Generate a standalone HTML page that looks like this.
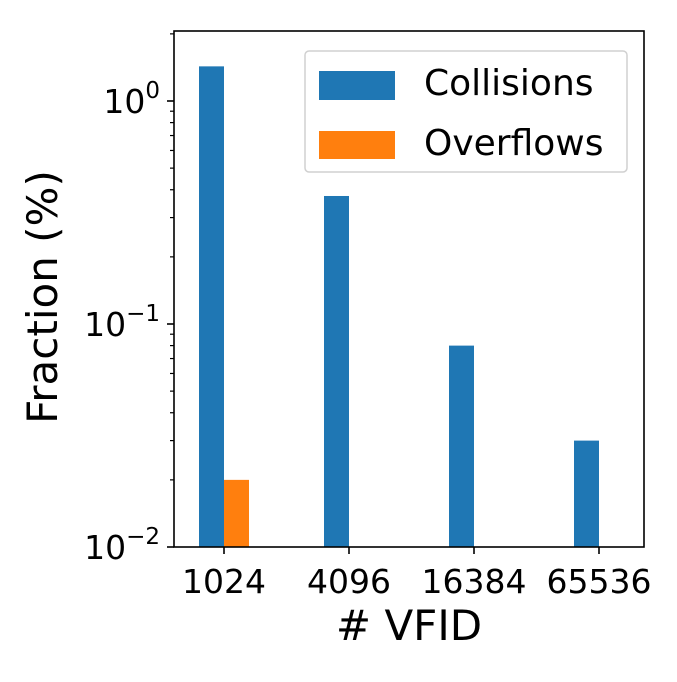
<!DOCTYPE html>
<html><head><meta charset="utf-8"><style>
body{margin:0;background:#fff;}
svg text{font-family:"DejaVu Sans","Liberation Sans",sans-serif;}
</style></head><body>
<svg id="chart" width="677" height="677" viewBox="0 0 677 677">
<rect width="677" height="677" fill="#fff"/>
<g id="bars"></g>
<g id="axes"></g>
<g>
<rect x="305" y="51" width="322" height="121" rx="4" fill="#fff" stroke="#ccc" stroke-width="1.5" opacity="0.9"/>
<rect x="319" y="71" width="76" height="29" fill="#1f77b4"/>
<text x="424" y="95" font-size="36">Collisions</text>
<rect x="319" y="131" width="76" height="28" fill="#ff7f0e"/>
<text x="424" y="155" font-size="36">Overflows</text>
</g>
<text x="409" y="640" font-size="42" text-anchor="middle"># VFID</text>
<text transform="translate(57,297) rotate(-90)" font-size="42" text-anchor="middle">Fraction (%)</text>
</svg>
<script>
const categories=["1024","4096","16384","65536"];
const collisions=[1.43,0.375,0.08,0.03];
const overflows=[0.02,null,null,null];
const yTickExps=[0,-1,-2];
const L=174,R=644,T=31,B=547;
const yMinExp=-2, decadePx=223;
function y(v){return B-(Math.log10(v)-yMinExp)*decadePx;}
function xc(i){return 224+i*125;}
const NS="http://www.w3.org/2000/svg";
const bars=document.getElementById('bars'), axes=document.getElementById('axes');
function mk(tag,attrs,parent){const e=document.createElementNS(NS,tag);for(const k in attrs)e.setAttribute(k,attrs[k]);parent.appendChild(e);return e;}
const bw=25;
categories.forEach((c,i)=>{
  if(collisions[i]!=null){
    const r=mk('rect',{x:xc(i)-bw,y:y(collisions[i]),width:bw,height:B-y(collisions[i]),fill:'#1f77b4'},bars);
    
    
  }
  if(overflows[i]!=null){
    const r=mk('rect',{x:xc(i),y:y(overflows[i]),width:bw,height:B-y(overflows[i]),fill:'#ff7f0e'},bars);
    
    
  }
  const t=mk('line',{x1:xc(i),x2:xc(i),y1:B,y2:B+7,stroke:'#000','stroke-width':1.6},axes);
  
  
  const lb=mk('text',{x:xc(i),y:B+46,'font-size':33,'text-anchor':'middle'},axes);
  lb.textContent=c;
  
  
});
for(let e=-2;e<=0;e++){for(let m=2;m<=9;m++){const v=m*Math.pow(10,e);const yy=y(v);if(yy<T)continue;
  const t=mk('line',{x1:L-4,x2:L,y1:yy,y2:yy,stroke:'#000','stroke-width':1.2},axes);
  
  }}
yTickExps.forEach(e=>{
  const yy=y(Math.pow(10,e));
  const t=mk('line',{x1:L-7,x2:L,y1:yy,y2:yy,stroke:'#000','stroke-width':1.6},axes);
  
  
  const tx=mk('text',{x:L-14,y:yy+12,'font-size':33,'text-anchor':'end'},axes);
  
  
  tx.appendChild(document.createTextNode('10'));
  const sp=mk('tspan',{dy:-15,'font-size':23},tx);
  sp.textContent=(e<0?'\u2212'+(-e):String(e));
});
const fr=mk('rect',{x:L,y:T,width:R-L,height:B-T,fill:'none',stroke:'#000','stroke-width':1.6},axes);


</script>
</body></html>
